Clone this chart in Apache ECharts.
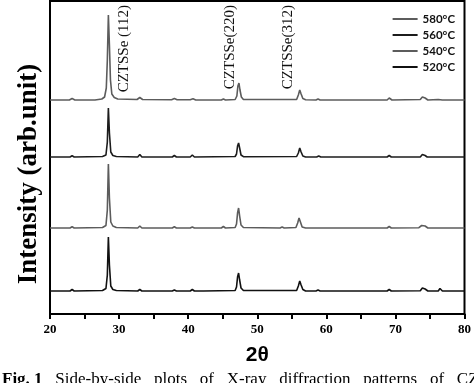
<!DOCTYPE html>
<html><head><meta charset="utf-8">
<script src="https://cdn.jsdelivr.net/npm/echarts@6/dist/echarts.min.js"></script>
<style>html,body{margin:0;padding:0;background:#fff}#c{width:474px;height:383px}</style>
</head><body><div id="c"></div>
<script>
// ---- data ----
var seriesNames = ['580°C', '560°C', '540°C', '520°C'];
var baselineOffsets = [214, 157, 86, 23];
var xTickLabels = [20, 30, 40, 50, 60, 70, 80];
var peakLabels = ['CZTSSe (112)', 'CZTSSe(220)', 'CZTSSe(312)'];
var peakLabelX = [30.7, 46.1, 54.4];

var s580 = [[20,0],[22.8,0],[23.2,1.5],[23.6,0],[26.5,0],[27.5,1],[27.9,3],[28.15,12],[28.3,40],[28.45,85],[28.6,55],[28.75,20],[28.95,6],[29.3,2.5],[29.8,1],[32.6,0.5],[33.0,2.5],[33.4,0.5],[37.6,0.3],[38.0,1.5],[38.4,0.3],[40.3,0.3],[40.7,1.2],[41.1,0],[44.8,0],[45.1,1],[45.4,0],[46.8,0.5],[47.05,4],[47.2,14],[47.35,17],[47.5,10],[47.7,3],[48.0,0.5],[55.7,0.5],[55.95,5],[56.15,10],[56.35,6],[56.6,1.5],[57,0.3],[58.5,0],[58.8,1],[59.1,0],[68.8,0],[69.1,2],[69.5,0],[73.6,0.5],[73.9,3],[74.05,4],[74.3,2],[74.7,0],[76.2,0.5],[76.45,2.5],[76.8,0],[80,0]];
var s560 = [[20,0],[22.9,0],[23.2,1.2],[23.5,0],[27.6,0.5],[28.1,2],[28.3,15],[28.45,49],[28.6,24],[28.8,5],[29.1,1.5],[29.6,0.5],[32.7,0],[33.0,2.5],[33.3,0],[37.7,0],[38.0,1.5],[38.3,0],[40.3,0],[40.6,2],[40.9,0],[46.8,0.5],[47.0,3],[47.15,11],[47.3,14],[47.45,9],[47.65,2],[48.0,0.3],[55.7,0.5],[55.95,4],[56.15,9],[56.35,5],[56.6,1],[57,0],[58.6,0],[58.9,1],[59.2,0],[68.8,0],[69.1,1.5],[69.4,0],[73.6,0],[73.9,2.5],[74.05,3],[74.3,1.5],[74.6,0],[76.2,0],[76.45,2],[76.7,0],[80,0]];
var s540 = [[20,0],[22.9,0],[23.2,1.2],[23.5,0],[27.6,0.5],[28.1,2.5],[28.3,18],[28.45,64],[28.6,30],[28.8,6],[29.1,2],[29.6,0.5],[32.7,0],[33.0,2],[33.3,0],[37.7,0],[38.0,1.2],[38.3,0],[40.3,0],[40.6,1],[40.9,0],[44.8,0],[45.1,1.5],[45.4,0],[46.8,0.5],[47.0,4],[47.15,15],[47.3,20],[47.45,12],[47.65,3],[48.0,0.5],[53.3,0],[53.6,1],[53.9,0],[55.6,0.5],[55.85,5],[56.05,10],[56.25,6],[56.5,1],[57,0],[68.8,0],[69.1,1.5],[69.4,0],[73.4,0.3],[73.8,2.5],[74.0,3.5],[74.3,2],[74.7,0],[76.2,0],[76.45,2],[76.8,0],[80,0]];
var s520 = [[20,0],[22.9,0],[23.2,1.5],[23.5,0],[27.6,0.5],[28.1,2.5],[28.3,16],[28.45,54],[28.6,26],[28.8,5],[29.1,1.5],[29.6,0.5],[32.7,0],[33.0,1.5],[33.3,0],[37.7,0],[38.0,1],[38.3,0],[40.3,0],[40.6,1.5],[40.9,0],[41.8,0],[42.0,0.8],[42.2,0],[46.8,0.5],[47.0,4],[47.15,14],[47.3,18],[47.45,11],[47.65,3],[48.0,0.5],[55.7,0.5],[55.95,5],[56.15,10],[56.35,6],[56.6,1.5],[57,0],[58.5,0],[58.8,1],[59.1,0],[68.8,0],[69.1,1.5],[69.4,0],[73.6,0.3],[73.9,3],[74.05,4],[74.3,2],[74.7,0],[76.2,0],[76.45,2.5],[76.8,0],[80,0]];
var seriesValues = [s580, s560, s540, s520];
var seriesColors = ['#5c5c5c', '#1c1c1c', '#5c5c5c', '#111111'];

var chart = echarts.init(document.getElementById('c'));
var series = seriesNames.map(function (n, i) {
  return {
    name: n, type: 'line', symbol: 'none', smooth: false,
    lineStyle: { color: seriesColors[i], width: 1.6 },
    itemStyle: { color: seriesColors[i] },
    data: seriesValues[i].map(function (p) { return [p[0], p[1] + baselineOffsets[i]]; })
  };
});
chart.setOption({
  animation: false,
  backgroundColor: '#fff',
  grid: { left: 50, right: 8, top: 1, bottom: 69, show: true, borderColor: '#000', borderWidth: 2, backgroundColor: 'transparent' },
  legend: {
    orient: 'vertical', right: 14, top: 8, itemWidth: 25, itemHeight: 10, itemGap: 4,
    icon: 'path://M0,0 L25,0 L25,2 L0,2 Z',
    textStyle: { fontFamily: 'Lato', fontWeight: 'bold', fontSize: 11.5, color: '#111' },
    data: seriesNames
  },
  xAxis: {
    type: 'value', min: 20, max: 80, interval: 5,
    name: '2θ', nameLocation: 'middle', nameGap: 31,
    nameTextStyle: { fontFamily: 'Liberation Sans', fontWeight: 'bold', fontSize: 21, color: '#000' },
    axisLine: { lineStyle: { color: '#000', width: 2 } },
    axisTick: { inside: false, length: 5, lineStyle: { color: '#000', width: 2 } },
    axisLabel: {
      margin: 9, fontFamily: 'Liberation Serif', fontWeight: 'bold', fontSize: 13, color: '#000',
      formatter: function (v) { return xTickLabels.indexOf(v) >= 0 ? String(v) : ''; }
    },
    splitLine: { show: false }
  },
  yAxis: {
    type: 'value', min: 0, max: 313,
    axisLine: { show: true, lineStyle: { color: '#000', width: 2 } },
    axisTick: { show: false }, axisLabel: { show: false }, splitLine: { show: false }
  },
  series: series
});

var texts = peakLabels.map(function (t, i) {
  var px = chart.convertToPixel({ xAxisIndex: 0 }, peakLabelX[i]);
  return {
    type: 'text', x: px, y: 5, rotation: Math.PI / 2,
    style: { text: t, fontFamily: 'Liberation Serif', fontSize: 15, fill: '#111', align: 'right', verticalAlign: 'middle' }
  };
});
texts.push({
  type: 'text', x: 29, y: 174, rotation: Math.PI / 2,
  style: { text: 'Intensity (arb.unit)', fontFamily: 'Liberation Serif', fontWeight: 'bold', fontSize: 27, fill: '#000', align: 'center', verticalAlign: 'middle' }
});
texts.push({
  type: 'text', x: 2, y: 371,
  style: {
    text: '{b|Fig. 1}   Side-by-side   plots   of   X-ray   diffraction   patterns   of   CZTSSe',
    fontFamily: 'Liberation Serif', fontSize: 17, fill: '#000', verticalAlign: 'top',
    rich: { b: { fontFamily: 'Liberation Serif', fontWeight: 'bold', fontSize: 17, fill: '#000' } }
  }
});
chart.setOption({ graphic: texts });
</script></body></html>
